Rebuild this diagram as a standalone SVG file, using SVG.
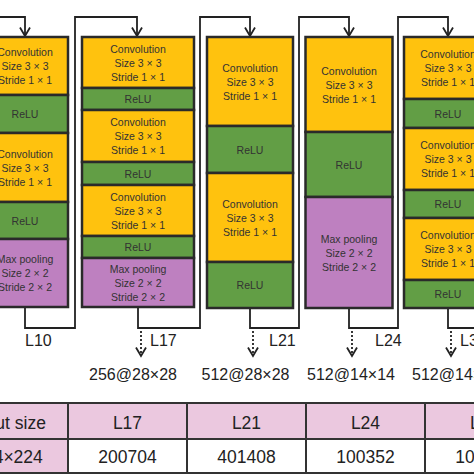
<svg xmlns="http://www.w3.org/2000/svg" width="474" height="474" viewBox="0 0 474 474">
<defs>
<style>
.conv{fill:#FFC20E;stroke:#2a2a2a;stroke-width:2.5}
.relu{fill:#629E45;stroke:#2a2a2a;stroke-width:2.5}
.pool{fill:#BE80C0;stroke:#2a2a2a;stroke-width:2.5}
.bt{font-family:"Liberation Sans",Arial,sans-serif;font-size:10.5px;fill:#333;text-anchor:middle}
.lbl{font-family:"Liberation Sans",Arial,sans-serif;font-size:16px;fill:#222}
.dim{font-family:"Liberation Sans",Arial,sans-serif;font-size:16px;fill:#222;text-anchor:middle}
.tt{font-family:"Liberation Sans",Arial,sans-serif;font-size:17.5px;fill:#222;text-anchor:middle}
.ln{fill:none;stroke:#222;stroke-width:1.8}
.dot{fill:none;stroke:#222;stroke-width:1.8;stroke-dasharray:2 2}
.tl{stroke:#333;stroke-width:2}
</style>
<marker id="chev" viewBox="0 0 12 12" refX="10.5" refY="6" markerWidth="12" markerHeight="12" markerUnits="userSpaceOnUse" orient="auto">
<path d="M2,1 L10.5,6 L2,11" fill="none" stroke="#222" stroke-width="1.8"/>
</marker>
</defs>

<g id="connectors">
<path class="ln" d="M0,17 H25 V36" marker-end="url(#chev)"/>
<path class="ln" d="M25,307 V328 H75 V17 H137 V36" marker-end="url(#chev)"/>
<path class="ln" d="M138,307 V328 H200 V17 H250 V36" marker-end="url(#chev)"/>
<path class="ln" d="M250,308 V328 H299 V17 H349 V36" marker-end="url(#chev)"/>
<path class="ln" d="M349,308 V328 H398 V17 H448 V36" marker-end="url(#chev)"/>
<path class="ln" d="M448,308 V328 H480"/>
<path class="dot" d="M141,331 V356" marker-end="url(#chev)"/>
<path class="dot" d="M253,331 V356" marker-end="url(#chev)"/>
<path class="dot" d="M352,331 V356" marker-end="url(#chev)"/>
<path class="dot" d="M451,331 V356" marker-end="url(#chev)"/>
</g>

<g id="col1">
<rect class="conv" x="-18" y="37" width="86" height="58"/>
<text class="bt" x="25" y="56">Convolution</text><text class="bt" x="25" y="70">Size 3 × 3</text><text class="bt" x="25" y="84">Stride 1 × 1</text>
<rect class="relu" x="-18" y="95" width="86" height="38"/>
<text class="bt" x="25" y="118">ReLU</text>
<rect class="conv" x="-18" y="133" width="86" height="69"/>
<text class="bt" x="25" y="157.5">Convolution</text><text class="bt" x="25" y="171.5">Size 3 × 3</text><text class="bt" x="25" y="185.5">Stride 1 × 1</text>
<rect class="relu" x="-18" y="202" width="86" height="37"/>
<text class="bt" x="25" y="224.5">ReLU</text>
<rect class="pool" x="-18" y="239" width="86" height="68"/>
<text class="bt" x="25" y="263">Max pooling</text><text class="bt" x="25" y="277">Size 2 × 2</text><text class="bt" x="25" y="291">Stride 2 × 2</text>
</g>

<g id="col2">
<rect class="conv" x="82" y="37" width="112" height="51"/>
<text class="bt" x="138" y="52.5">Convolution</text><text class="bt" x="138" y="66.5">Size 3 × 3</text><text class="bt" x="138" y="80.5">Stride 1 × 1</text>
<rect class="relu" x="82" y="88" width="112" height="22"/>
<text class="bt" x="138" y="103">ReLU</text>
<rect class="conv" x="82" y="110" width="112" height="52"/>
<text class="bt" x="138" y="126">Convolution</text><text class="bt" x="138" y="140">Size 3 × 3</text><text class="bt" x="138" y="154">Stride 1 × 1</text>
<rect class="relu" x="82" y="162" width="112" height="23"/>
<text class="bt" x="138" y="177.5">ReLU</text>
<rect class="conv" x="82" y="185" width="112" height="51"/>
<text class="bt" x="138" y="200.5">Convolution</text><text class="bt" x="138" y="214.5">Size 3 × 3</text><text class="bt" x="138" y="228.5">Stride 1 × 1</text>
<rect class="relu" x="82" y="236" width="112" height="22"/>
<text class="bt" x="138" y="251">ReLU</text>
<rect class="pool" x="82" y="258" width="112" height="49"/>
<text class="bt" x="138" y="272.5">Max pooling</text><text class="bt" x="138" y="286.5">Size 2 × 2</text><text class="bt" x="138" y="300.5">Stride 2 × 2</text>
</g>

<g id="col3">
<rect class="conv" x="207" y="37" width="86" height="89"/>
<text class="bt" x="250" y="71.5">Convolution</text><text class="bt" x="250" y="85.5">Size 3 × 3</text><text class="bt" x="250" y="99.5">Stride 1 × 1</text>
<rect class="relu" x="207" y="126" width="86" height="47"/>
<text class="bt" x="250" y="153.5">ReLU</text>
<rect class="conv" x="207" y="173" width="86" height="89"/>
<text class="bt" x="250" y="207.5">Convolution</text><text class="bt" x="250" y="221.5">Size 3 × 3</text><text class="bt" x="250" y="235.5">Stride 1 × 1</text>
<rect class="relu" x="207" y="262" width="86" height="46"/>
<text class="bt" x="250" y="289">ReLU</text>
</g>

<g id="col4">
<rect class="conv" x="305.5" y="37" width="87" height="95"/>
<text class="bt" x="349" y="74.5">Convolution</text><text class="bt" x="349" y="88.5">Size 3 × 3</text><text class="bt" x="349" y="102.5">Stride 1 × 1</text>
<rect class="relu" x="305.5" y="132" width="87" height="65"/>
<text class="bt" x="349" y="168.5">ReLU</text>
<rect class="pool" x="305.5" y="197" width="87" height="111"/>
<text class="bt" x="349" y="242.5">Max pooling</text><text class="bt" x="349" y="256.5">Size 2 × 2</text><text class="bt" x="349" y="270.5">Stride 2 × 2</text>
</g>

<g id="col5">
<rect class="conv" x="404" y="37" width="88" height="62"/>
<text class="bt" x="448" y="58">Convolution</text><text class="bt" x="448" y="72">Size 3 × 3</text><text class="bt" x="448" y="86">Stride 1 × 1</text>
<rect class="relu" x="404" y="99" width="88" height="29"/>
<text class="bt" x="448" y="117.5">ReLU</text>
<rect class="conv" x="404" y="128" width="88" height="62"/>
<text class="bt" x="448" y="149">Convolution</text><text class="bt" x="448" y="163">Size 3 × 3</text><text class="bt" x="448" y="177">Stride 1 × 1</text>
<rect class="relu" x="404" y="190" width="88" height="28"/>
<text class="bt" x="448" y="208">ReLU</text>
<rect class="conv" x="404" y="218" width="88" height="62"/>
<text class="bt" x="448" y="239">Convolution</text><text class="bt" x="448" y="253">Size 3 × 3</text><text class="bt" x="448" y="267">Stride 1 × 1</text>
<rect class="relu" x="404" y="280" width="88" height="28"/>
<text class="bt" x="448" y="298">ReLU</text>
</g>

<g id="labels">
<text class="lbl" x="25" y="346">L10</text>
<text class="lbl" x="150" y="346">L17</text>
<text class="lbl" x="269" y="346">L21</text>
<text class="lbl" x="375" y="346">L24</text>
<text class="lbl" x="460" y="346">L30</text>
<text class="dim" x="133" y="380">256@28×28</text>
<text class="dim" x="245.5" y="380">512@28×28</text>
<text class="dim" x="351" y="380">512@14×14</text>
<text class="dim" x="456" y="380">512@14×14</text>
</g>

<g id="table">
<rect x="-10" y="403" width="490" height="36" fill="#EBC8DF"/>
<rect x="-10" y="439" width="78" height="35" fill="#EBC8DF"/>
<line class="tl" x1="-10" y1="403" x2="480" y2="403"/>
<line class="tl" x1="-10" y1="439" x2="480" y2="439"/>
<line class="tl" x1="-10" y1="473" x2="480" y2="473"/>
<line class="tl" x1="68" y1="403" x2="68" y2="474"/>
<line class="tl" x1="187" y1="403" x2="187" y2="474"/>
<line class="tl" x1="306" y1="403" x2="306" y2="474"/>
<line class="tl" x1="425" y1="403" x2="425" y2="474"/>
<text class="tt" x="8.5" y="429">Input size</text>
<text class="tt" x="127.5" y="429">L17</text>
<text class="tt" x="246.5" y="429">L21</text>
<text class="tt" x="365.5" y="429">L24</text>
<text class="tt" x="484.5" y="429">L30</text>
<text class="tt" x="8.5" y="463">224×224</text>
<text class="tt" x="127.5" y="463">200704</text>
<text class="tt" x="246.5" y="463">401408</text>
<text class="tt" x="365.5" y="463">100352</text>
<text class="tt" x="484.5" y="463">100352</text>
</g>
</svg>
